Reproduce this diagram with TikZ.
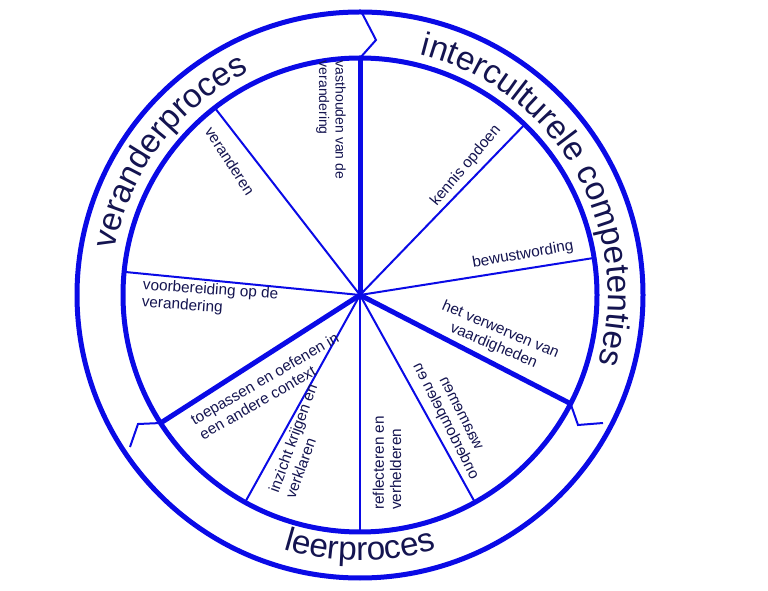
\documentclass[tikz,border=0pt]{standalone}
\usepackage{fontspec}
\setmainfont{Liberation Sans}
\usetikzlibrary{decorations.text}
\definecolor{lineblue}{RGB}{10,10,230}
\definecolor{txt}{RGB}{20,20,80}
\begin{document}
\begin{tikzpicture}[x=0.75pt,y=-0.75pt,
  thickline/.style={draw=lineblue,line width=3.75pt},
  thinline/.style={draw=lineblue,line width=1.5pt},
  chev/.style={draw=lineblue,line width=1.5pt},
  lbl/.style={text=txt,font=\fontsize{11.5}{13}\selectfont,inner sep=0pt},
  big/.style={text=txt,font=\fontsize{22.5}{24}\selectfont}]
\useasboundingbox (0,0) rectangle (768,591);
\coordinate (C) at (360,295);
\draw[thickline] (C) circle[radius=212.25pt];
\draw[thickline] (C) circle[radius=177.75pt];
% spokes
\foreach \a/\n in {90/s1,127.8/s2,174.4/s3,212.7/s4,241/s5,270/s6,299/s7,332.7/s8,9/s9,46/s10}
  \path (C) ++(\a:177.75pt) coordinate (\n);
\draw[thickline] (C) -- (s1);
\draw[thickline] (C) -- (s4);
\draw[thickline] (C) -- (s8);
\foreach \n in {s2,s3,s5,s6,s7,s9,s10} \draw[thinline] (C) -- (\n);
% chevrons
\coordinate (m1) at (376,40); \coordinate (o1) at (362,13);
\coordinate (m2) at (138,424); \coordinate (o2) at (130,447);
\coordinate (m3) at (578,425); \coordinate (o3) at (603,423);
\draw[chev] (s1) -- (m1) -- (o1);
\draw[chev] (s4) -- (m2) -- (o2);
\draw[chev] (s8) -- (m3) -- (o3);
% labels
\node[lbl,font=\fontsize{10.5}{12.5}\selectfont,rotate=-90,align=left] (t1) at (331,120) {vasthouden van de\\verandering};
\node[lbl,rotate=-57] (t2) at (230,161) {veranderen};
\node[lbl,rotate=50] (t3) at (466,166) {kennis opdoen};
\node[lbl,rotate=10] (t4) at (523,255) {bewustwording};
\node[lbl,rotate=-23,align=center] (t5) at (497,338) {het verwerven van\\vaardigheden};
\node[lbl,rotate=-63,xscale=-1,align=center] (t6) at (452,418) {waarnemen\\onderdompelen en};
\node[lbl,rotate=90,align=left] (t7) at (387,463) {reflecteren en\\verhelderen};
\node[lbl,rotate=70,align=left] (t8) at (301,441) {inzicht krijgen en\\verklaren};
\node[lbl,rotate=30,align=left] (t9) at (269,386) {toepassen en oefenen in\\een andere context};
\node[lbl,rotate=-4,align=left] (t10) at (210,299) {voorbereiding op de\\verandering};
% arc texts
\path[decorate,decoration={text along path,text align=center,
  text={|\fontsize{25}{26}\selectfont\color{txt}|veranderproces}}]
  (C) ++(178:187pt) arc[start angle=178,end angle=108,radius=187pt];
\path[decorate,decoration={text along path,text align=center,
  text={|\fontsize{25}{26}\selectfont\color{txt}|interculturele competenties}}]
  (C) ++(85:186pt) arc[start angle=85,end angle=-25,radius=186pt];
\path[decorate,decoration={text along path,text align=center,
  text={|\fontsize{25}{26}\selectfont\color{txt}|leerproces}}]
  (C) ++(235:199pt) arc[start angle=235,end angle=305,radius=199pt];
\end{tikzpicture}
\end{document}
